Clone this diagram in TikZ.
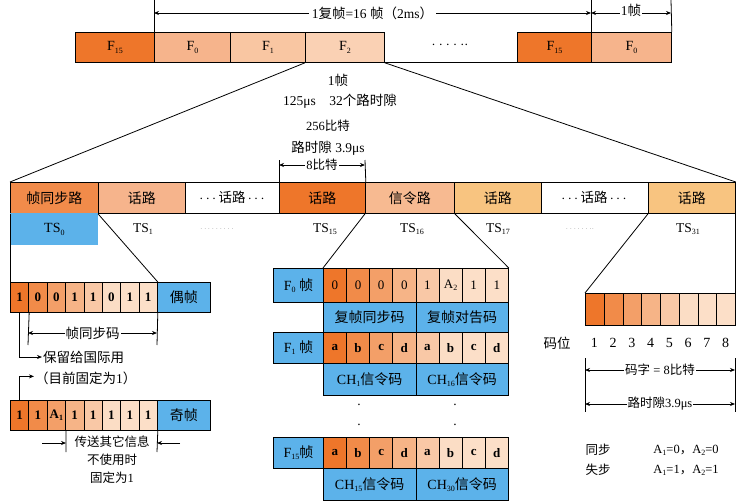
\documentclass[tikz,border=0pt]{standalone}
\usepackage{fontspec}
\setmainfont{Liberation Serif}
\newfontfamily\cjk{Noto Sans CJK SC}
\usetikzlibrary{arrows.meta}
\newcommand{\zh}[1]{{\cjk #1}}
\newcommand{\lowidx}[1]{\raisebox{-0.35ex}{\footnotesize #1}}
\definecolor{dk}{RGB}{238,118,42}
\definecolor{lt}{RGB}{253,232,214}
\definecolor{bl}{RGB}{92,178,234}
\definecolor{yl}{RGB}{248,196,128}
\definecolor{mo}{RGB}{246,180,140}
\newcommand{\cellat}[7]{\node[cell,minimum width=#4pt,minimum height=#5pt,fill=#6] (#1) at (#2,#3) {#7};}
\begin{document}
\begin{tikzpicture}[x=1pt,y=-1pt,
  cell/.style={draw,line width=0.8pt,inner sep=0pt,anchor=north west,font=\fontsize{14}{14}\selectfont},
  ln/.style={line width=0.8pt},
  dim/.style={line width=0.7pt,{Stealth[length=5pt,width=4pt]}-{Stealth[length=5pt,width=4pt]}},
  tip/.style={line width=0.7pt,-{Stealth[length=5pt,width=4pt]}},
  lbl/.style={inner sep=1pt,font=\fontsize{13.5}{14}\selectfont},
  slbl/.style={inner sep=1pt,font=\fontsize{12.5}{13}\selectfont},
  bit/.style={cell,font=\fontsize{13}{13}\selectfont\bfseries}]
\useasboundingbox (0,0) rectangle (741,503);
\fill[white] (0,0) rectangle (741,503);
% top row
\cellat{t1}{75}{32}{79}{30}{dk}{F\lowidx{15}}
\cellat{t2}{154}{32}{76}{30}{mo}{F\lowidx{0}}
\cellat{t3}{230}{32}{75}{30}{dk!30!lt}{F\lowidx{1}}
\cellat{t4}{305}{32}{79}{30}{dk!20!lt}{F\lowidx{2}}
\cellat{t5}{517}{32}{74}{30}{dk}{F\lowidx{15}}
\cellat{t6}{591}{32}{80}{30}{mo}{F\lowidx{0}}
\draw[ln] (t4.south east) -- (t5.south west);
\node[lbl] (tdots) at (450,45) {$\cdot\cdot\cdot\cdot\cdot\cdot$};
\coordinate (v1) at (154,0); \coordinate (v2) at (591,0); \coordinate (v3) at (671,0);
\draw[ln] (v1) -- (t2.north west);
\draw[ln] (v2) -- (t6.north west);
\draw[ln] (v3) -- (t6.north east);
\coordinate (a1) at (154,13); \coordinate (a2) at (591,13); \coordinate (a3) at (671,13);
\draw[dim] (a1) -- node[lbl,fill=white,inner xsep=3pt] (mf) {1\zh{复帧}=16 \zh{帧（}2ms\zh{）}} (a2);
\draw[dim] (a2) -- node[lbl,fill=white,yshift=3pt] (of) {1\zh{帧}} (a3);
% labels
\node[lbl] (l1) at (338,80) {1\zh{帧}};
\node[lbl] (l2) at (340,101) {125μs\quad 32\zh{个路时隙}};
\node[slbl] (l3) at (328,126) {256\zh{比特}};
\node[lbl] (l4) at (328,148) {\zh{路时隙} 3.9μs};
% row 2
\cellat{r1}{10}{182}{88}{31}{dk!85!white}{\zh{帧同步路}}
\cellat{r2}{98}{182}{87}{31}{mo}{\zh{话路}}
\node[lbl] (r3) at (232,197) {$\cdots$\,\zh{话路}\,$\cdots$};
\cellat{r4}{279}{182}{86}{31}{dk}{\zh{话路}}
\cellat{r5}{365}{182}{89}{31}{dk!40!lt}{\zh{信令路}}
\cellat{r6}{454}{182}{87}{31}{yl}{\zh{话路}}
\node[lbl] (r7) at (594,197) {$\cdots$\,\zh{话路}\,$\cdots$};
\cellat{r8}{648}{182}{87}{31}{yl}{\zh{话路}}
\draw[ln] (r2.south east) -- (r8.south west);
\draw[ln] (r2.north east) -- (r4.north west);
\draw[ln] (r6.north east) -- (r8.north west);
\draw[ln] (t4.south west) -- (r1.north west);
\draw[ln] (t4.south east) -- (r8.north east);
% 8 bit arrow
\coordinate (e1) at (279,160); \coordinate (e2) at (365,160);
\draw[ln] (e1) -- (r4.north west); \draw[ln] (e2) -- (r4.north east);
\draw[dim] (279,165) -- node[slbl,fill=white] (eb) {8\zh{比特}} (365,165);
% TS row
\node[cell,draw=none,fill=bl,minimum width=88pt,minimum height=32pt] (ts0) at (10,213) {TS\lowidx{0}};
\node[lbl] (ts1) at (143,229) {TS\lowidx{1}};
\node[lbl] (tsd1) at (217,229) {\tiny$\cdot\cdot\cdot\cdot\cdot\cdot\cdot\cdot\cdot$};
\node[lbl] (ts15) at (325,229) {TS\lowidx{15}};
\node[lbl] (ts16) at (412,229) {TS\lowidx{16}};
\node[lbl] (ts17) at (498,229) {TS\lowidx{17}};
\node[lbl] (tsd2) at (580,229) {\tiny$\cdot\cdot\cdot\cdot\cdot\cdot\cdot\cdot$};
\node[lbl] (ts31) at (688,229) {TS\lowidx{31}};
% block 1 (even frame)
\foreach \v [count=\i from 0] in {1,0,0,1,1,0,1,1} {
  \pgfmathsetmacro{\pc}{max(8,100-\i*18)}
  \node[bit,minimum width=18.375pt,minimum height=30pt,fill=dk!\pc!lt] (e\i) at ({10+\i*18.375},282) {\v};
}
\node[cell,fill=bl,minimum width=53pt,minimum height=30pt] (even) at (157,282) {\zh{偶帧}};
\draw[ln] (r1.south west) -- (e0.north west);
\draw[ln] (r2.south west) -- (e7.north east);
\coordinate (fa) at (28,345); \coordinate (fb) at (157,345);
\draw[ln] (e0.south east) -- (fa); \draw[ln] (e7.south east) -- (fb);
\draw[dim] (28,333) -- node[lbl,fill=white] (fsc) {\zh{帧同步码}} (157,333);
\node[lbl,anchor=west] (res1) at (42,357) {\zh{保留给国际用}};
\node[lbl,anchor=west] (res2) at (34,378) {\zh{（目前固定为}1\zh{）}};
% block 2 (odd frame)
\foreach \v [count=\i from 0] in {1,1,A\lowidx{1},1,1,1,1,1} {
  \pgfmathsetmacro{\pc}{max(8,100-\i*18)}
  \node[bit,minimum width=18.375pt,minimum height=30pt,fill=dk!\pc!lt] (o\i) at ({10+\i*18.375},400) {\v};
}
\node[cell,fill=bl,minimum width=53pt,minimum height=30pt] (odd) at (157,400) {\zh{奇帧}};
\draw[tip] (e0.south) |- (res1.west);
\draw[tip] (o0.north) |- ([yshift=-6pt]res2.north west);
\coordinate (ga) at (66,452); \coordinate (gb) at (157,452);
\draw[ln] (o2.south east) -- (ga); \draw[ln] (o7.south east) -- (gb);
\node[slbl] (g1) at (112,442) {\zh{传送其它信息}};
\draw[tip] (42,443) -- (66,443);
\draw[tip] (180,443) -- (157,443);
\node[slbl] (g2) at (112,460) {\zh{不使用时}};
\node[slbl] (g3) at (112,478) {\zh{固定为}1};
% middle block
\def\mw{23.125}
\node[cell,fill=bl,minimum width=50pt,minimum height=34pt] (m0) at (273,268) {F\lowidx{0} \zh{帧}};
\foreach \v [count=\i from 0] in {0,0,0,0,1,A\lowidx{2},1,1} {
  \pgfmathsetmacro{\pc}{max(8,100-\i*18)}
  \node[cell,minimum width=\mw pt,minimum height=34pt,fill=dk!\pc!lt,font=\fontsize{13}{13}\selectfont] (ma\i) at ({323+\i*\mw},268) {\v};
}
\node[cell,fill=bl,minimum width=92.5pt,minimum height=30pt] (mb1) at (323,302) {\zh{复帧同步码}};
\node[cell,fill=bl,minimum width=92.5pt,minimum height=30pt] (mb2) at (415.5,302) {\zh{复帧对告码}};
\node[cell,fill=bl,minimum width=50pt,minimum height=31pt] (m1) at (273,332) {F\lowidx{1} \zh{帧}};
\foreach \v [count=\i from 0] in {a,b,c,d,a,b,c,d} {
  \pgfmathsetmacro{\pc}{max(8,100-\i*18)}
  \node[bit,minimum width=\mw pt,minimum height=31pt,fill=dk!\pc!lt] (mc\i) at ({323+\i*\mw},332) {\v};
}
\node[cell,fill=bl,minimum width=92.5pt,minimum height=32pt] (md1) at (323,363) {CH\lowidx{1}\zh{信令码}};
\node[cell,fill=bl,minimum width=92.5pt,minimum height=32pt] (md2) at (415.5,363) {CH\lowidx{16}\zh{信令码}};
\node[lbl] (dt1) at (359,405) {.}; \node[lbl] (dt2) at (359,425) {.};
\node[lbl] (dt3) at (455,405) {.}; \node[lbl] (dt4) at (455,425) {.};
\node[cell,fill=bl,minimum width=50pt,minimum height=31pt] (m15) at (273,437) {F\lowidx{15}\zh{帧}};
\foreach \v [count=\i from 0] in {a,b,c,d,a,b,c,d} {
  \pgfmathsetmacro{\pc}{max(8,100-\i*18)}
  \node[bit,minimum width=\mw pt,minimum height=31pt,fill=dk!\pc!lt] (me\i) at ({323+\i*\mw},437) {\v};
}
\node[cell,fill=bl,minimum width=92.5pt,minimum height=32pt] (mf1) at (323,468) {CH\lowidx{15}\zh{信令码}};
\node[cell,fill=bl,minimum width=92.5pt,minimum height=32pt] (mf2) at (415.5,468) {CH\lowidx{30}\zh{信令码}};
\draw[ln] (r5.south west) -- (ma0.north west);
\draw[ln] (r5.south east) -- (ma7.north east);
% right block
\foreach \i in {0,...,7} {
  \pgfmathsetmacro{\pc}{max(8,100-\i*18)}
  \node[cell,minimum width=18.75pt,minimum height=32pt,fill=dk!\pc!lt] (rb\i) at ({585+\i*18.75},293) {};
  \node[lbl,font=\fontsize{14}{14}\selectfont] (rn\i) at ({594.4+\i*18.75},343) {\the\numexpr\i+1\relax};
}
\node[lbl] (mw) at (557,343) {\zh{码位}};
\draw[ln] (r8.south west) -- (rb0.north west);
\draw[ln] (r8.south east) -- (rb7.north east);
\coordinate (ha) at (585,412); \coordinate (hb) at (735,412);
\coordinate (hc) at (585,358); \coordinate (hd) at (735,358);
\draw[ln] (hc) -- (ha); \draw[ln] (hd) -- (hb);
\draw[dim] (585,370) -- node[slbl,fill=white] (cw) {\zh{码字} = 8\zh{比特}} (735,370);
\draw[dim] (585,404) -- node[slbl,fill=white] (ct) {\zh{路时隙}3.9μs} (735,404);
\node[slbl] (s1) at (598,450) {\zh{同步}};
\node[slbl] (s2) at (686,450) {A\lowidx{1}=0\zh{，}A\lowidx{2}=0};
\node[slbl] (s3) at (598,470) {\zh{失步}};
\node[slbl] (s4) at (686,470) {A\lowidx{1}=1\zh{，}A\lowidx{2}=1};
\end{tikzpicture}
\end{document}
